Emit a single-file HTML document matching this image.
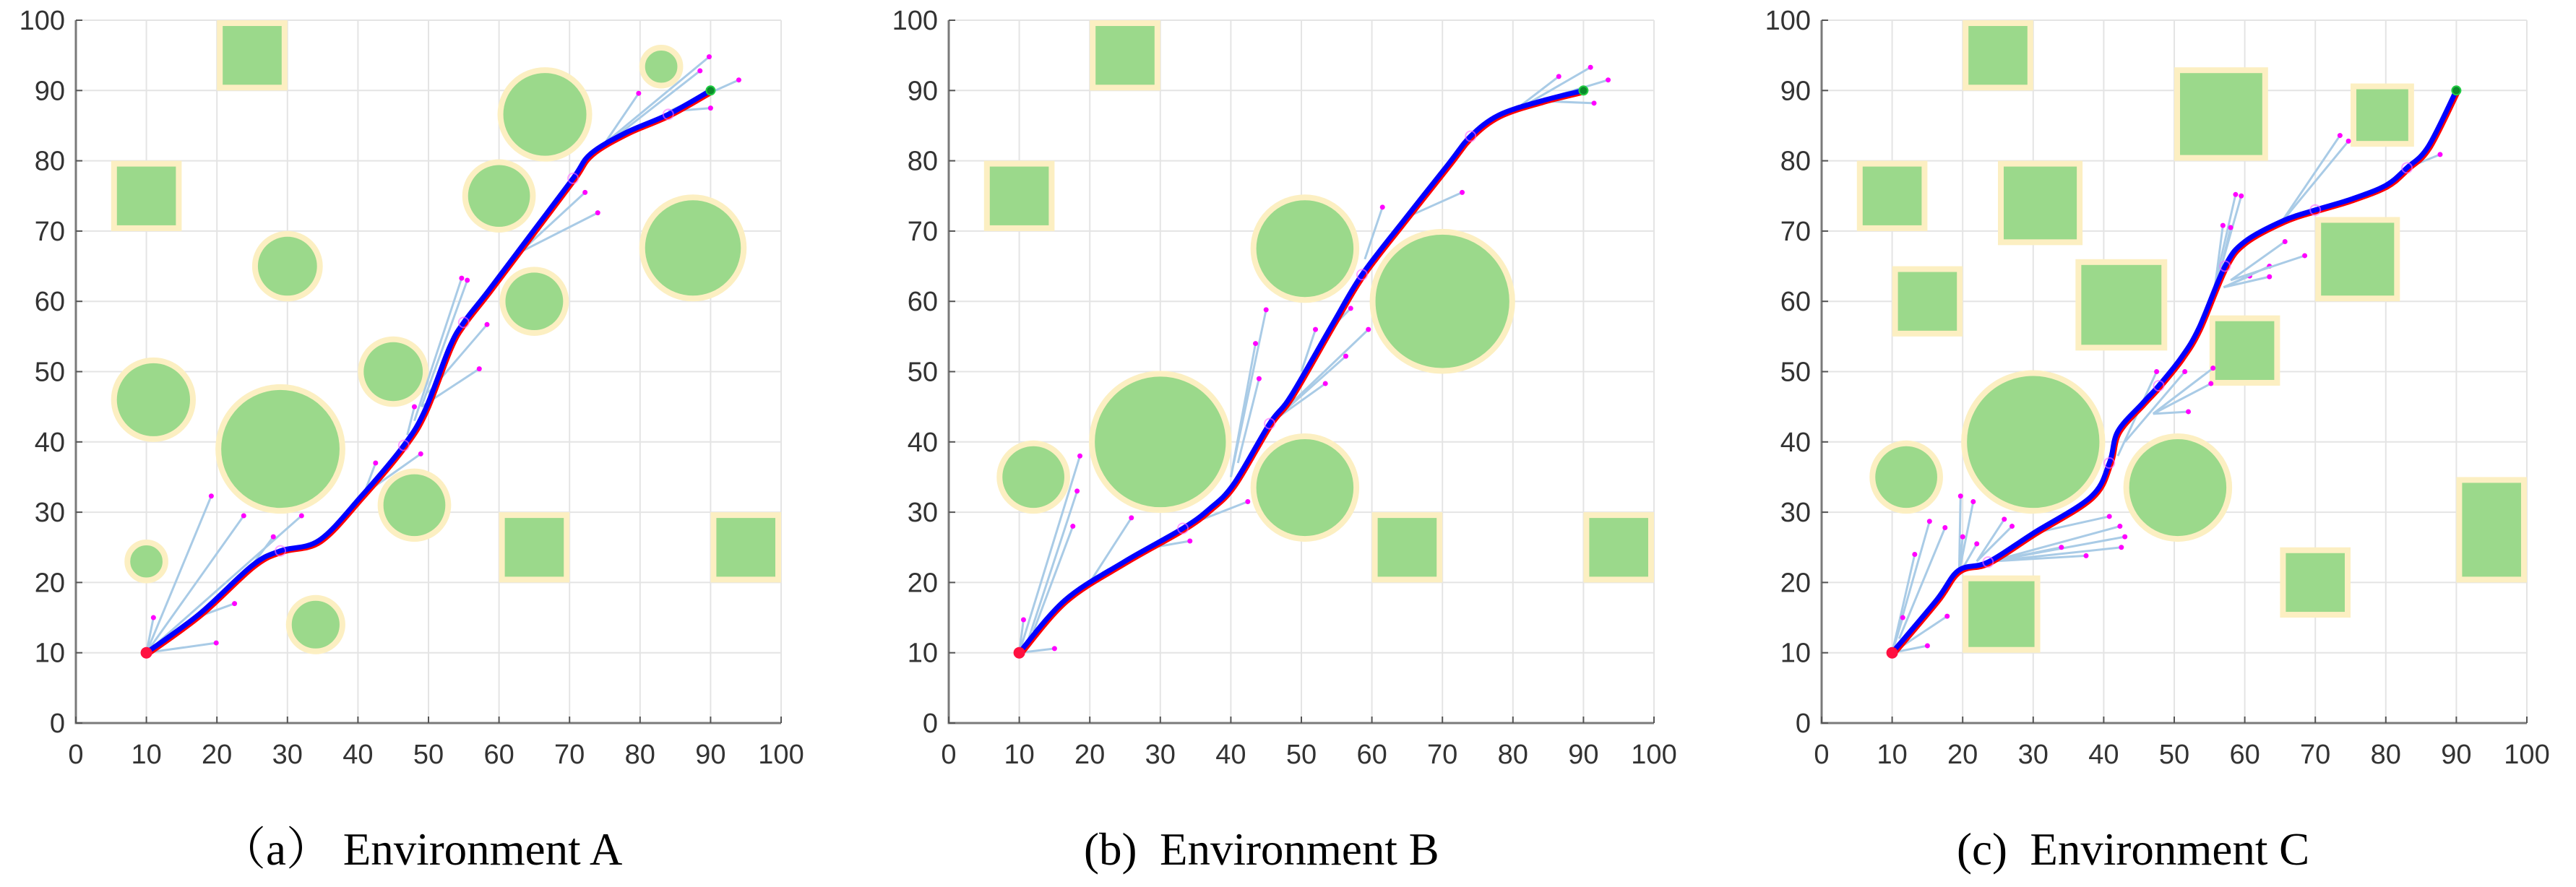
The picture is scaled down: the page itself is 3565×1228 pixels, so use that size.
<!DOCTYPE html>
<html><head><meta charset="utf-8">
<style>
html,body{margin:0;padding:0;background:#fff;}
svg{display:block;}
.cap{font-family:"Liberation Serif","Noto Serif CJK SC",serif;}
.tk{font-family:"Liberation Sans",Arial,sans-serif;}
</style></head>
<body>
<svg id="fig" width="3565" height="1228" viewBox="0 0 3565 1228" xmlns="http://www.w3.org/2000/svg"></svg>
<script>
// ---- data ----
const ticks = [0,10,20,30,40,50,60,70,80,90,100];
const panelX0 = [105, 1313, 2521];
const captions = ["（a） Environment A", "(b)  Environment B", "(c)  Environment C"];
const captionX = [305, 1500, 2708];

// circles: [cx, cy, r]
const circlesA = [[11,46,6],[29,39,9.2],[30,65,5],[10,23,3.1],[34,14,4.2],[45,50,5],[48,31,5.2],[60,75,5.2],[66.5,86.6,6.7],[65,60,4.9],[83,93.4,3.1],[87.5,67.6,7.6]];
const circlesB = [[12,35,5.2],[30,40,10.1],[50.5,33.5,7.7],[50.5,67.5,7.7],[70,60,10.3]];
const circlesC = [[12,35,5.2],[30,40,10.2],[50.5,33.5,7.7]];
// squares: [x1, y1, x2, y2]
const squaresA = [[20,90,30,100],[5,70,15,80],[60,20,70,30],[90,20,100,30]];
const squaresB = [[20,90,30,100],[5,70,15,80],[60,20,70,30],[90,20,100,30]];
const squaresC = [[20,90,30,100],[50,80,63.3,93.3],[75,82,84,91],[5,70,15,80],[25,68,37,80],[10,55,20,65],[36,53,49,66],[55,48,65,58],[70,60,82,72],[90,20,100,35],[65,15,75,25],[20,10,31,21]];

// paths: x and y arrays
const pathAx = [10,17.5,25,29,34.5,40.5,46.5,49.5,53,55,58.5,64.5,70.5,73,78,84,90];
const pathAy = [10,15.5,22.4,24.5,26,32.3,39.5,44.5,53.5,57,61.5,69.5,77.5,81,84,86.6,90];
const pathBx = [10,16.5,24.8,33.2,37,40.4,45.5,48.5,54.5,58.6,64.6,70.9,74,78,84,90];
const pathBy = [10,17.5,22.9,27.7,30.5,34,42.6,46.5,56.9,63.8,71.6,79.6,83.5,86.5,88.5,90];
const pathCx = [10,16.3,19.4,23.6,30,38.2,40.8,42,45.5,47.8,51,53.5,57.2,60,65.5,70,75,80,83,86,90];
const pathCy = [10,17.5,21.7,22.9,27,32.2,37,41.5,45.5,48,52,56.2,65,68.5,71.5,73,74.5,76.5,79,82,90];

// branches: [x1, y1, x2, y2]
const branchesA = [[10,10,19.2,32.3],[10,10,23.8,29.5],[10,10,32,29.5],[10,10,19.9,11.4],[10,10,11,15],[17,15,22.5,17],[25,22.5,28,26.5],[40,32,48.9,38.3],[41,33,42.5,37],[47,41,48,45],[48,43,54.7,63.3],[49,45,55.5,63],[50,47,58.3,56.7],[49,45,57.2,50.4],[63,67,72.2,75.5],[63,67,74,72.6],[75,82.5,79.8,89.6],[75,82.5,89.8,94.8],[76,83,88.5,92.8],[84,87,94,91.5],[84,87,90,87.5]];
const branchesB = [[10,10,10.6,14.7],[10,10,15,10.6],[10,10,18.6,38],[11,11,18.2,33],[12,13,17.6,28],[20,20,25.9,29.2],[29,25,34.2,25.9],[36,29,42.4,31.5],[40,35,45,58.8],[40,35,43.5,54],[41,37,44,49],[46,43,53.4,48.3],[46,43,56.3,52.2],[47,44,59.5,56],[50,50,52,56],[55,57,57,59],[59,66,61.5,73.4],[65,72,72.8,75.5],[80,87,86.5,92],[81,87.5,91,93.3],[82,88,93.5,91.5],[84,88.5,91.5,88.2]];
const branchesC = [[10,10,13.2,24],[10,10,15.3,28.7],[10,10,11.5,15],[10,10,15,11],[10,10,17.8,15.2],[11,12,17.5,27.8],[19.5,21.5,19.7,32.3],[19.5,21.5,21.5,31.5],[19.5,21.5,20,26.5],[20,22,22,25.5],[22,23,25.9,29],[22,23,27,28],[24,23,42.3,28],[24,23,43,26.5],[24,23,42.5,25],[24,23,37.5,23.8],[24,23,34,25],[30,27,40.8,29.4],[42,38,47.5,50],[43,40,51.5,50],[47,44,52,44.3],[47,44,55.2,48.3],[47,44,55.5,50.5],[55,59,58.7,75.2],[55,59,59.5,75],[55.5,60,56.9,70.8],[55.5,60,58,70.5],[57,62,60.7,63.6],[57,62,63.5,63.5],[57,62,63.5,65],[58,63,65.7,68.5],[58,63,68.5,66.5],[65,71,73.5,83.6],[65,71,74.7,82.8],[83,79,87.7,80.9]];

const panels = [
  {circles: circlesA, squares: squaresA, px: pathAx, py: pathAy, br: branchesA},
  {circles: circlesB, squares: squaresB, px: pathBx, py: pathBy, br: branchesB},
  {circles: circlesC, squares: squaresC, px: pathCx, py: pathCy, br: branchesC}
];

// ---- drawing ----
const NS = "http://www.w3.org/2000/svg";
const svg = document.getElementById('fig');
function mk(tag, attrs, parent){
  const e = document.createElementNS(NS, tag);
  for (const k in attrs) e.setAttribute(k, attrs[k]);
  (parent || svg).appendChild(e);
  return e;
}
const Y0 = 1001, Y100 = 28, W = 976;
const ring = 0.8;

function smoothPath(xs, ys, sx, sy){
  const p = xs.map((x,i)=>[sx(x), sy(ys[i])]);
  let d = `M${p[0][0]},${p[0][1]}`;
  for (let i=0;i<p.length-1;i++){
    const p0 = p[Math.max(0,i-1)], p1 = p[i], p2 = p[i+1], p3 = p[Math.min(p.length-1,i+2)];
    const c1 = [p1[0]+(p2[0]-p0[0])/6, p1[1]+(p2[1]-p0[1])/6];
    const c2 = [p2[0]-(p3[0]-p1[0])/6, p2[1]-(p3[1]-p1[1])/6];
    d += ` C${c1[0]},${c1[1]} ${c2[0]},${c2[1]} ${p2[0]},${p2[1]}`;
  }
  return d;
}

panels.forEach((P, pi) => {
  const x0 = panelX0[pi];
  const sx = v => x0 + v/100*W;
  const sy = v => Y0 - v/100*(Y0-Y100);
  const ks = (Y0-Y100)/100;
  const g = mk('g', {});
  
  

  const grid = mk('g', {stroke:'#e4e4e4', 'stroke-width':2}, g);
  
  
  ticks.forEach(t => {
    if (t>0){ const l = mk('line', {x1:sx(t), x2:sx(t), y1:Y100, y2:Y0}, grid);
        }
    if (t>0){ const l = mk('line', {x1:sx(0), x2:sx(100), y1:sy(t), y2:sy(t)}, grid);
        }
  });

  P.squares.forEach(s => {
    const r = mk('rect', {x:sx(s[0])+4, y:sy(s[3])+4, width:sx(s[2])-sx(s[0])-8, height:sy(s[1])-sy(s[3])-8, fill:'#9bd98b', stroke:'#fcefc2', 'stroke-width':8}, g);
    
    
  });
  P.circles.forEach(c => {
    const rx = (c[2]-ring/2)*W/100, ry = (c[2]-ring/2)*ks;
    const e = mk('ellipse', {cx:sx(c[0]), cy:sy(c[1]), rx:rx, ry:ry, fill:'#9bd98b', stroke:'#fcefc2', 'stroke-width':8}, g);
    
    
  });

  P.br.forEach(b => {
    const l = mk('line', {x1:sx(b[0]), y1:sy(b[1]), x2:sx(b[2]), y2:sy(b[3]), stroke:'#a9cbe6', 'stroke-width':3}, g);
    
    
    const d = mk('circle', {cx:sx(b[2]), cy:sy(b[3]), r:3.5, fill:'#ff00ff'}, g);
    
    
  });

  const red = mk('path', {d: smoothPath(P.px.map(v=>v+0.25), P.py.map(v=>v-0.25), sx, sy), fill:'none', stroke:'#ff0000', 'stroke-width':6}, g);
  
  
  const blue = mk('path', {d: smoothPath(P.px, P.py, sx, sy), fill:'none', stroke:'#0000ff', 'stroke-width':7, 'stroke-linejoin':'round'}, g);
  
  
  P.px.forEach((x,i) => {
    if (i===0 || i===P.px.length-1 || i%3!==0) return;
    const c = mk('circle', {cx:sx(x), cy:sy(P.py[i]), r:7, fill:'none', stroke:'#ff66ff', 'stroke-width':2, opacity:0.6}, g);
    
    
  });
  const st = mk('circle', {cx:sx(P.px[0]), cy:sy(P.py[0]), r:8, fill:'#ff1040'}, g);
  
  
  const en = mk('circle', {cx:sx(P.px[P.px.length-1]), cy:sy(P.py[P.py.length-1]), r:6, fill:'#0a8a2a', stroke:'#22cc44', 'stroke-width':2}, g);
  
  

  const ax = mk('path', {d:`M${sx(0)},${Y100} L${sx(0)},${Y0} L${sx(100)},${Y0}`, fill:'none', stroke:'#7a7a7a', 'stroke-width':3}, g);
  
  
  ticks.forEach(t => {
    const tx = mk('line', {x1:sx(t), x2:sx(t), y1:Y0, y2:Y0-9, stroke:'#555', 'stroke-width':2}, g);
     
    const ty = mk('line', {x1:sx(0), x2:sx(0)+9, y1:sy(t), y2:sy(t), stroke:'#555', 'stroke-width':2}, g);
     
    const lx = mk('text', {x:sx(t), y:1057, 'text-anchor':'middle', 'class':'tk', 'font-size':38, fill:'#333'}, g);
    lx.textContent = t;
     
    const ly = mk('text', {x:sx(0)-15, y:sy(t)+13, 'text-anchor':'end', 'class':'tk', 'font-size':38, fill:'#333'}, g);
    ly.textContent = t;
     
  });

  const cap = mk('text', {x:captionX[pi], y:1197, 'class':'cap', 'font-size':63, fill:'#000'}, g);
  cap.setAttribute('xml:space', 'preserve');
  cap.style.whiteSpace = 'pre';
  cap.textContent = captions[pi];
  
  
});
</script>
</body></html>
